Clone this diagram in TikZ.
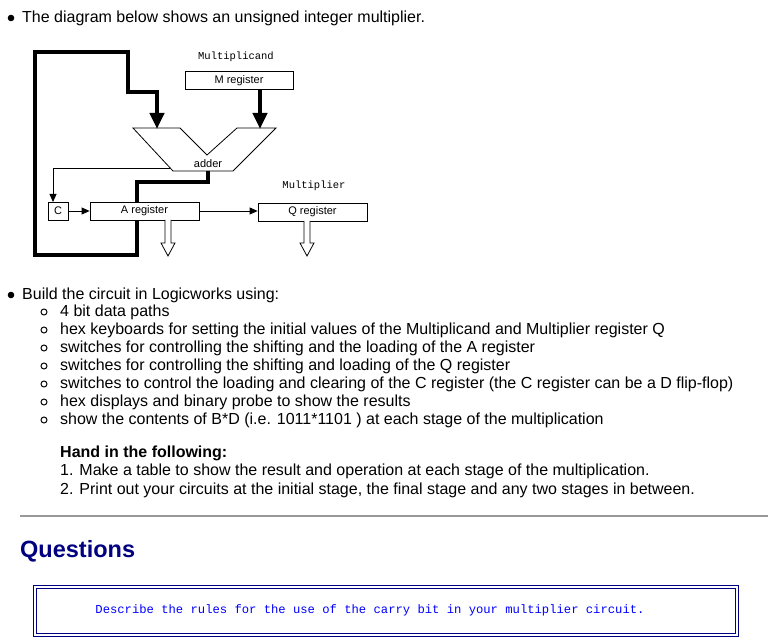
\documentclass[tikz,border=0pt]{standalone}
\usepackage{fontspec}
\setmainfont{Liberation Sans}
\setmonofont{Liberation Mono}
\usetikzlibrary{arrows.meta}
\definecolor{navy}{RGB}{0,0,128}
\begin{document}
\begin{tikzpicture}[x=1pt,y=-1pt,
  txt/.style={anchor=west,inner sep=0pt,font=\fontsize{16}{18}\selectfont},
  small/.style={inner sep=0pt,font=\ttfamily\fontsize{10.5}{12}\selectfont},
  reg/.style={draw,line width=0.8pt,minimum height=18pt,inner sep=0pt,font=\fontsize{11}{12}\selectfont},
  thick bus/.style={line width=4pt},
  bigarrow/.style={-{Triangle[width=14pt,length=16pt]}},
  thin/.style={line width=0.8pt},
  hollow/.style={draw,line width=0.8pt,fill=white}]
\useasboundingbox (0,0) rectangle (768,644);
\fill[black] (11,18) circle (3.3pt);
\node[txt] (t1) at (22,18) {The diagram below shows an unsigned integer multiplier.};
% diagram
\node[small] (mlab) at (236,57) {Multiplicand};
\node[reg,minimum width=108pt] (M) at (239,80.5) {M register};
\node[small] (qlab) at (314,186) {Multiplier};
\node[reg,minimum width=20pt] (C) at (58,211) {C};
\node[reg,minimum width=109pt] (A) at (144.5,211) {A register};
\node[reg,minimum width=109pt] (Q) at (312.5,212) {Q register};
\draw[thin] (133,128) -- (180,128) -- (207,155) -- (237,128) -- (276,128) -- (233,171) -- (173,171) -- cycle;
\node[inner sep=0pt,font=\fontsize{11}{12}\selectfont] (add) at (208,163.5) {adder};
\coordinate (addL) at (157,129);
\coordinate (addR) at (260,129);
\draw[thick bus,bigarrow] (M.south -| addR) -- (addR);
\draw[thick bus,bigarrow] (137,220) -- (137,255) -- (35,255) -- (35,52) -- (128,52) -- (128,92) -- (157,92) -- (addL);
\draw[thick bus] (208,171) -- (208,182) -- (137,182) -- (137,202);
\draw[thin,-{Triangle[width=7pt,length=8pt]}] (170,168) -- (53,168) -- (53,202);
\draw[thin,-{Triangle[width=7pt,length=8pt]}] (C) -- (A);
\draw[thin,-{Triangle[width=7pt,length=8pt]}] (A) -- (Q.west |- A);
\path[hollow] (165,220) -- (165,243) -- (161,243) -- (168,256) -- (175,243) -- (171,243) -- (171,220);
\path[hollow] (304,221) -- (304,243) -- (300,243) -- (307,256) -- (314,243) -- (310,243) -- (310,221);
% text
\fill[black] (11,295) circle (3.3pt);
\node[txt] (t2) at (22,295) {Build the circuit in Logicworks using:};
\foreach \y/\s in {312/4 bit data paths,
 330/hex keyboards for setting the initial values of the Multiplicand and Multiplier register Q,
 348/switches for controlling the shifting and the loading of the A register,
 366/switches for controlling the shifting and loading of the Q register,
 384/switches to control the loading and clearing of the C register (the C register can be a D flip-flop),
 402/hex displays and binary probe to show the results,
 420/show the contents of B*D (i.e. 1011*1101 ) at each stage of the multiplication}{
 \draw[line width=1pt] (44,\y) circle (3pt);
 \node[txt] at (60,\y) {\s};}
\node[txt,font=\fontsize{16}{18}\selectfont\bfseries] (h) at (60,453) {Hand in the following:};
\node[txt] (h1) at (60,471) {1. Make a table to show the result and operation at each stage of the multiplication.};
\node[txt] (h2) at (60,490) {2. Print out your circuits at the initial stage, the final stage and any two stages in between.};
\draw[gray!80,line width=1.2pt] (20,516) -- (768,516);
\node[txt,font=\fontsize{23.5}{26}\selectfont\bfseries,text=navy] (q) at (20,551) {Questions};
\draw[navy,line width=0.8pt] (33,585) rectangle (738,636);
\draw[navy,line width=0.8pt] (36,588) rectangle (735,633);
\node[inner sep=0pt,font=\ttfamily\fontsize{12.2}{14}\selectfont,text=blue] (qt) at (370,610) {Describe the rules for the use of the carry bit in your multiplier circuit.};
\end{tikzpicture}
\end{document}
